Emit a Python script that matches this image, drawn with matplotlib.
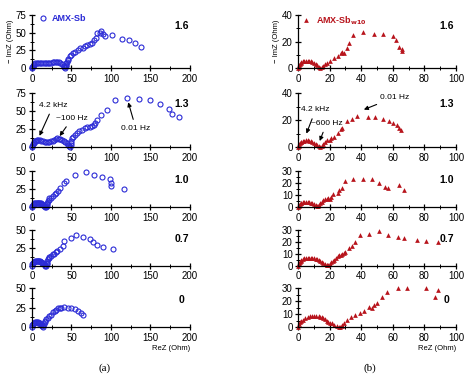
import matplotlib
matplotlib.use("Agg")
import matplotlib.pyplot as plt
from matplotlib.ticker import AutoMinorLocator

plt.rcParams["font.family"] = ["Liberation Sans", "DejaVu Sans"]

################################################################################

# DATA  (ReZ, -ImZ)
labels = ["1.6", "1.3", "1.0", "0.7", "0"]

# (a) AMX-Sb
a_x = [
    [0, 0.5, 1, 2, 3, 4, 6, 8, 10, 12, 14, 16, 18, 20, 22, 24, 26, 28, 30, 32, 34, 36, 38, 40, 41,
     42, 42.5, 43, 43.5, 44, 45, 46, 48, 50, 52, 55, 58, 61, 64, 67, 70, 73, 76, 78, 81, 83, 86, 88,
     90, 92, 101, 114, 123, 130, 138],
    [0, 0.5, 1, 2, 3, 4, 5, 6, 8, 10, 12, 14, 16, 18, 20, 22, 24, 26, 28, 30, 32, 34, 36, 38, 40, 42,
     44, 46, 47, 48, 49, 49.5, 50, 51, 52, 54, 57, 60, 63, 67, 70, 73, 76, 78, 80, 82, 88, 95, 105,
     121, 136, 150, 162, 173, 177, 186],
    [0, 0.5, 1, 2, 3, 4, 5, 6, 7, 8, 9, 10, 11, 12, 13, 14, 15, 16, 17, 18, 18.5, 19, 19.5, 20, 21,
     22, 24, 26, 29, 31, 33, 35, 41, 43, 54, 68, 79, 89, 99, 100, 100, 117],
    [0, 0.5, 1, 2, 3, 4, 5, 6, 7, 8, 9, 10, 11, 12, 13, 14, 15, 16, 17, 18, 18.5, 19, 19.5, 20, 21,
     22, 24, 26, 28, 30, 32, 35, 39, 41, 50, 56, 65, 73, 77, 82, 90, 103],
    [0, 0.5, 1, 2, 3, 4, 5, 6, 7, 8, 9, 10, 11, 12, 13, 14, 14.5, 15, 16, 17, 18, 20, 22, 24, 26,
     29, 31, 33, 35, 37, 40, 45, 50, 54, 58, 62, 65],
]
a_y = [
    [0, 1.5, 3, 4.5, 5.5, 6.5, 7, 7.5, 7.5, 7.5, 7, 7, 6.5, 6.5, 7, 7.5, 8, 8.5, 9, 8.5, 8, 7, 5.5, 3.5, 2,
     0.5, 3, 5, 7, 9, 11, 13, 17, 19, 21, 23, 26, 28, 29, 31, 33, 34, 36, 39, 43, 49, 50, 53,
     48, 45, 46, 41, 39, 35, 30],
    [0, 2, 4, 6, 7, 8, 9, 9.5, 10, 9.5, 9, 8, 7, 6.5, 6.5, 7, 8, 9, 10, 11, 12, 11.5, 11, 10, 8.5, 7,
     5, 3, 1.5, 0, 3, 6, 9, 12, 14, 16, 20, 22, 23, 27, 27.5, 28, 29, 31, 34, 38, 45, 51, 66,
     68, 67, 65, 60, 53, 46, 42],
    [0, 2, 3, 4, 5, 5.5, 6, 6, 6, 6, 6, 5.5, 5, 4.5, 4, 3, 2, 1.5, 0.5, 0, 2, 4, 6, 8, 10,
     12, 13, 16, 18, 20, 22, 27, 33, 36, 44, 49, 44, 42, 39, 33, 29, 25],
    [0, 2, 3.5, 5, 6, 6.5, 7, 7, 7, 7, 7, 6.5, 6, 5.5, 4.5, 3.5, 2.5, 1.5, 0.5, 0, 2, 4, 7, 9, 11,
     13, 14, 16, 17, 19, 21, 23, 28, 35, 39, 43, 40, 37, 33, 29, 26, 24],
    [0, 2, 3.5, 4.5, 5.5, 6, 6, 6, 6, 5.5, 5, 4.5, 3.5, 2.5, 1.5, 0.5, 2, 4, 6, 8, 10, 12, 14, 16, 19,
     21, 22, 24, 24, 25, 25.5, 25, 24, 23, 21, 18, 15],
]

# (b) AMX-Sb_w10
b_x = [
    [0, 0.3, 0.6, 1, 1.5, 2, 3, 4, 5, 6, 7, 8, 9, 10, 11, 12, 13, 14, 15, 16, 17, 18, 20, 22.5, 25,
     27, 28, 29, 31, 32, 35, 41, 48, 54, 60, 62, 64, 65.5, 66],
    [0, 0.3, 0.6, 1, 1.5, 2, 3, 4, 5, 6, 7, 8, 9, 10, 11, 12, 13, 14, 15, 16, 17, 18, 20, 21, 23,
     25, 27, 28, 31, 34, 37, 44, 49, 54, 57.5, 60, 62.5, 64, 65],
    [0, 0.3, 0.6, 1, 1.5, 2, 3, 4, 5, 6, 7, 8, 9, 10, 11, 12, 12.5, 13, 14, 15, 16, 17, 18, 19, 20,
     21, 22, 25, 26, 28, 30, 35, 41, 47, 51, 55, 57, 64, 67],
    [0, 0.3, 0.6, 1, 1.5, 2, 3, 4, 5, 6, 7, 8, 9, 10, 11, 12, 13, 14, 15, 16, 17, 18, 18.5, 19, 20,
     21, 22, 23, 24, 25, 26, 27, 28, 29, 30, 32, 34, 36, 39, 44.6, 51, 57, 63, 67, 75, 81, 88.4],
    [0, 0.5, 1, 2, 3, 4.6, 6, 7.4, 9, 10.3, 11.5, 13, 14, 15, 16, 17, 18, 19, 20, 21.5, 23, 24.6,
     26, 26.7, 27.5, 28, 29, 31, 33.5, 36, 39, 41.5, 44.6, 47, 48, 50, 53, 56, 63, 69, 81, 86.7,
     88.8],
]
b_y = [
    [0, 1, 2, 3, 3.8, 4.5, 5, 5.3, 5.5, 5.5, 5.3, 5, 4.5, 3.8, 3, 2, 1, 0.3, 0.5, 1.5, 3, 4, 5.5, 7.5, 9,
     11, 12, 11.5, 15, 19, 25, 27, 26, 26, 24, 21, 16, 14, 12.5],
    [0, 1, 2, 2.8, 3.5, 4, 4.5, 4.8, 5, 5, 4.8, 4.5, 4, 3.3, 2.5, 1.7, 1, 0.3, 1, 2.5, 4, 5, 5.5, 6.5, 7.5,
     10.5, 13, 14, 19, 21, 23, 22.5, 22, 20.5, 19, 18, 16, 14, 12.5],
    [0, 1, 1.8, 2.5, 3, 3.5, 3.8, 4, 4, 4, 3.8, 3.5, 3, 2.5, 1.8, 1, 0.5, 2, 3, 4.5, 5.5, 6.5, 7, 7.5, 7,
     8, 11, 12, 14, 16, 22, 23, 23, 23, 20, 17, 16, 18, 14],
    [0, 1.5, 2.5, 3.5, 4.5, 5, 5.8, 6.3, 6.8, 7, 7, 7, 6.8, 6.5, 6, 5.5, 5, 4.3, 3.5, 2.7, 1.8, 1, 0.5, 1, 2,
     3, 4, 5, 6.5, 8, 9, 9.5, 10, 10.5, 12, 15, 17, 20, 26, 27, 29, 26, 24, 23, 22, 21, 19.7],
    [0, 2, 3.5, 4.5, 5.4, 7.2, 8, 8.6, 8.8, 8.8, 8.7, 8.6, 8, 7.5, 6.8, 6, 5, 4, 3.3, 2.7, 1.7, 0.8,
     0.3, 0, 1, 1.5, 2.7, 5.4, 8, 9.4, 10.7, 12, 15.3, 14.7, 17, 18.8, 22.8, 26.8, 30, 30, 30, 23.3,
     28.7],
]

a_ylims = [75, 75, 50, 50, 50]
b_ylims = [40, 40, 30, 30, 30]

################################################################################

fig = plt.figure(figsize=(4.74, 3.74), dpi=100)

# panel rows: (bottom, height) in figure fraction
rows = [(0.818, 0.142), (0.607, 0.144), (0.4465, 0.096), (0.289, 0.096), (0.1257, 0.104)]
blue = "#2b2bd6"
red = "#b8141c"


def style_axis(ax, xmax, xstep, ymax, ystep):
    ax.set_xlim(0, xmax)
    ax.set_ylim(0, ymax)
    ax.set_xticks(range(0, xmax + 1, xstep))
    ax.set_yticks(range(0, ymax + 1, ystep))
    ax.xaxis.set_minor_locator(AutoMinorLocator(2))
    ax.yaxis.set_minor_locator(AutoMinorLocator(2))
    for s in ["top", "right"]:
        ax.spines[s].set_visible(False)
    for s in ["left", "bottom"]:
        ax.spines[s].set_linewidth(0.9)
    ax.tick_params(which="major", direction="inout", length=5, width=0.9, labelsize=7, pad=1.5)
    ax.tick_params(which="minor", direction="inout", length=3, width=0.7)
    ax.patch.set_alpha(0)


for i, (bottom, height) in enumerate(rows):
    axa = fig.add_axes([0.0675, bottom, 0.333, height])
    axa.plot(a_x[i], a_y[i], "o", mfc="none", mec=blue, ms=3.6, mew=0.8, clip_on=False)
    style_axis(axa, 200, 50, a_ylims[i], 25)
    axa.text(0.95, 0.8 if i < 2 else (0.75 if i < 4 else 0.69), labels[i],
             transform=axa.transAxes, ha="center", va="center", fontsize=7.5, fontweight="bold")

    axb = fig.add_axes([0.629, bottom, 0.333, height])
    axb.plot(b_x[i], b_y[i], "^", color=red, ms=3.4, mew=0, clip_on=False)
    style_axis(axb, 100, 20, b_ylims[i], 20 if i < 2 else 10)
    axb.text(0.94, 0.8 if i < 2 else (0.75 if i < 4 else 0.69), labels[i],
             transform=axb.transAxes, ha="center", va="center", fontsize=7.5, fontweight="bold")

    if i == 0:
        axa.plot([0.07], [0.94], "o", mfc="none", mec=blue, ms=3.6, mew=0.8, transform=axa.transAxes)
        axa.text(0.125, 0.94, "AMX-Sb", color=blue, fontsize=6.5, fontweight="bold",
                 transform=axa.transAxes, va="center")
        axb.plot([0.05], [0.9], "^", color=red, ms=3.4, mew=0, transform=axb.transAxes)
        axb.text(0.11, 0.9, r"AMX-Sb$_{\mathbf{w10}}$", color=red, fontsize=6.5, fontweight="bold",
                 transform=axb.transAxes, va="center")
        for ax in (axa, axb):
            ax.set_ylabel("\u2212 ImZ (Ohm)", fontsize=5.5, labelpad=1)
    if i == 1:
        arrow = dict(arrowstyle="-|>", color="black", lw=0.8, mutation_scale=6)
        axa.annotate("4.2 kHz", xy=(8, 12), xytext=(9, 58), fontsize=6, va="center", arrowprops=arrow)
        axa.annotate("~100 Hz", xy=(33, 12), xytext=(31, 40), fontsize=6, va="center", arrowprops=arrow)
        axa.annotate("0.01 Hz", xy=(121, 66), xytext=(113, 26), fontsize=6, va="center", arrowprops=arrow)
        axb.annotate("4.2 kHz", xy=(4.6, 8), xytext=(2, 27.5), fontsize=6, va="center", arrowprops=arrow)
        axb.annotate("~600 Hz", xy=(13, 2.5), xytext=(8, 17.5), fontsize=6, va="center", arrowprops=arrow)
        axb.annotate("0.01 Hz", xy=(40, 27), xytext=(52, 37), fontsize=6, va="center", arrowprops=arrow)
    if i == 4:
        axa.set_xlabel("ReZ (Ohm)", fontsize=5.5, loc="right", labelpad=2)
        axb.set_xlabel("ReZ (Ohm)", fontsize=5.5, loc="right", labelpad=2)

fig.text(105 / 474, 1 - 368 / 374, "(a)", family="Liberation Serif", fontsize=8, ha="center", va="center")
fig.text(370 / 474, 1 - 368 / 374, "(b)", family="Liberation Serif", fontsize=8, ha="center", va="center")

fig.savefig("out.png", dpi=100)
